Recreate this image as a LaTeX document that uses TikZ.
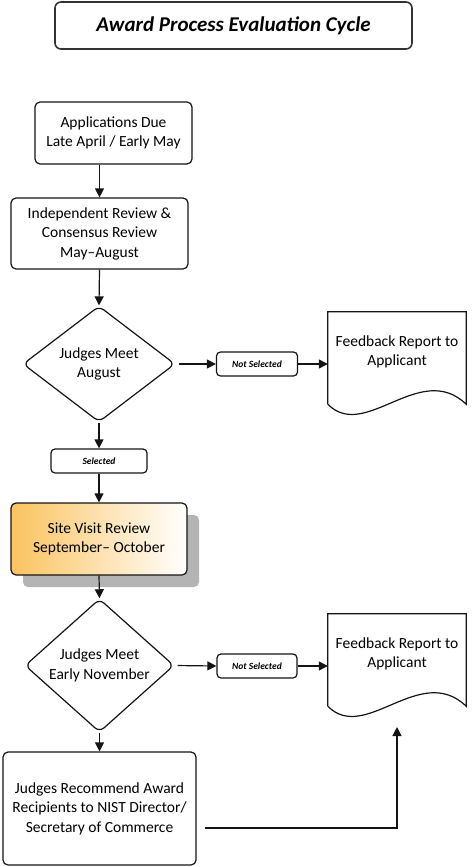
\documentclass[tikz,border=0pt]{standalone}
\usepackage{fontspec}
\setmainfont{Carlito}
\usetikzlibrary{shapes.geometric,arrows.meta,shadows}
\definecolor{siteL}{RGB}{250,195,95}
\definecolor{shadowgray}{RGB}{180,180,180}
\definecolor{linec}{RGB}{20,20,20}
\begin{document}
\begin{tikzpicture}[x=1pt,y=-1pt,
  base/.style={draw=linec,line width=1.2pt,align=center,font=\fontsize{15.5}{19.5}\selectfont,inner sep=2pt},
  procbox/.style={base,rectangle,rounded corners=5pt},
  decision/.style={base,diamond,rounded corners=6pt,inner sep=0pt},
  tag/.style={draw=linec,line width=1.2pt,rectangle,rounded corners=4pt,font=\fontsize{9.5}{11}\selectfont\bfseries\itshape,inner sep=1pt},
  arr/.style={line width=1.2pt,draw=linec,-{Triangle[length=9pt,width=9pt]}},
  plain/.style={line width=1.2pt,draw=linec}
]
\useasboundingbox (0,0) rectangle (472,867);
% title
\node[draw=black!80,line width=1.6pt,rounded corners=6pt,minimum width=357pt,minimum height=47pt,font=\fontsize{21}{25}\selectfont\bfseries\itshape] (title) at (233.5,25.5) {Award Process Evaluation Cycle};
% boxes
\node[procbox,minimum width=157pt,minimum height=62pt] (b1) at (113.5,133) {Applications Due\\Late April / Early May};
\node[procbox,minimum width=177pt,minimum height=71pt] (b2) at (99.5,233.5) {Independent Review \&\\Consensus Review\\May–August};
\node[decision,minimum width=152pt,minimum height=116pt] (d1) at (99,364) {Judges Meet\\August};
\node[tag,minimum width=81pt,minimum height=24pt] (ns1) at (257,364) {Not Selected};
\node[minimum width=138pt,minimum height=92pt,inner sep=0pt] (doc1) at (397,358) {};
\draw[plain] (doc1.south west) -- (doc1.north west) -- (doc1.north east) -- (doc1.south east)
  .. controls (420,360) and (365,442) .. (doc1.south west);
\node[base,draw=none,anchor=north] (doc1t) at ([yshift=-21pt]doc1.north) {Feedback Report to\\Applicant};
\node[tag,minimum width=96pt,minimum height=24pt] (sel) at (99,461) {Selected};
\node[procbox,minimum width=176pt,minimum height=72pt,left color=siteL,right color=white,
  general shadow={fill=shadowgray,shadow xshift=12pt,shadow yshift=-12pt}] (site) at (99,539) {Site Visit Review\\September– October};
\node[decision,minimum width=149pt,minimum height=115pt] (d2) at (99.5,665.5) {Judges Meet\\Early November};
\node[tag,minimum width=80pt,minimum height=24pt] (ns2) at (257,666) {Not Selected};
\node[minimum width=138pt,minimum height=92pt,inner sep=0pt] (doc2) at (397,660) {};
\draw[plain] (doc2.south west) -- (doc2.north west) -- (doc2.north east) -- (doc2.south east)
  .. controls (420,662) and (365,744) .. (doc2.south west);
\node[base,draw=none,anchor=north] (doc2t) at ([yshift=-21pt]doc2.north) {Feedback Report to\\Applicant};
\node[procbox,minimum width=193pt,minimum height=113pt] (b3) at (99.5,808.5) {Judges Recommend Award\\Recipients to NIST Director/\\Secretary of Commerce};
\coordinate (fb) at (397,727);
% connectors
\draw[arr] (b1.south -| b2.north) -- (b2.north);
\draw[arr] (b2.south) -- (d1.north);
\draw[arr,shorten <=3pt] (d1.east) -- (ns1.west);
\draw[arr] (ns1.east) -- (ns1.east -| doc1.west);
\draw[arr] (d1.south) -- (sel.north);
\draw[arr] (sel.south) -- (site.north);
\draw[arr] (site.south) -- (d2.north);
\draw[arr,shorten <=3pt] (d2.east) -- (ns2.west);
\draw[arr] (ns2.east) -- (ns2.east -| doc2.west);
\draw[arr] (d2.south) -- (b3.north);
\draw[arr,shorten <=8pt] ([yshift=-19.5pt]b3.east) -| (fb);
\end{tikzpicture}
\end{document}
